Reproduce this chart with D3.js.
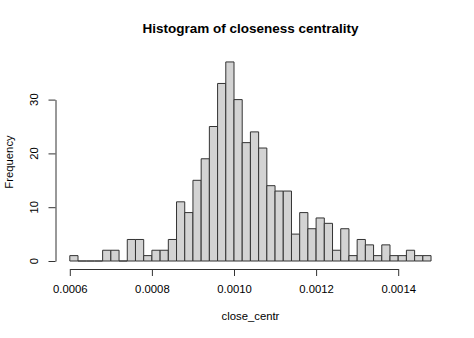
<!DOCTYPE html>
<html>
<head>
<meta charset="utf-8">
<script src="https://cdn.jsdelivr.net/npm/d3@7/dist/d3.min.js"></script>
<style>
  html, body { margin: 0; padding: 0; background: #fff; }
  svg { display: block; font-family: "Liberation Sans", Arial, Helvetica, sans-serif; }
</style>
</head>
<body>
<svg id="chart" width="474" height="338"></svg>
<script>
// ---- data ----
const title = "Histogram of closeness centrality";
const xLabel = "close_centr";
const yLabel = "Frequency";
const binStart = 0.0006;
const binWidth = 0.00002;
const counts = [1,0,0,0,2,2,0,4,4,1,2,2,4,11,9,15,19,25,33,37,30,22,24,21,14,13,13,5,9,6,8,7,2,6,1,4,3,1,3,1,1,2,1,1];
const xTicks = [0.0006, 0.0008, 0.0010, 0.0012, 0.0014];
const xTickLabels = ["0.0006", "0.0008", "0.0010", "0.0012", "0.0014"];
const yTicks = [0, 10, 20, 30];

// ---- drawing ----
const svg = d3.select("#chart");
const x = d3.scaleLinear().domain([0.0006, 0.0014]).range([69.8, 398.2]);
const y = d3.scaleLinear().domain([0, 30]).range([261, 99.6]);

const bins = counts.map((c, i) => ({ x0: binStart + i * binWidth, x1: binStart + (i + 1) * binWidth, n: c }));

svg.append("g").selectAll("path")
  .data(bins)
  .join("path")
  .attr("d", d => {
    const a = x(d.x0), b = x(d.x1), y0 = y(0), y1 = y(d.n);
    return `M${a},${y0}V${y1}H${b}V${y0}Z`;
  })
  .attr("fill", "#d3d3d3")
  .attr("stroke", "#333")
  .attr("stroke-width", 1);

// x axis
const xAxis = d3.axisBottom(x)
  .tickValues(xTicks)
  .tickFormat((d, i) => xTickLabels[i])
  .tickSize(7)
  .tickSizeOuter(0)
  .tickPadding(9);
const gx = svg.append("g").attr("transform", "translate(0,269)").call(xAxis);
gx.select(".domain").attr("stroke", "#333");
gx.selectAll(".tick line").attr("stroke", "#333");
gx.selectAll(".tick text").attr("font-size", "11.3px").attr("fill", "#000")
  .attr("font-family", "Liberation Sans, Arial, sans-serif");

// y axis
const yAxis = d3.axisLeft(y)
  .tickValues(yTicks)
  .tickSize(7)
  .tickSizeOuter(0)
  .tickFormat("");
const gy = svg.append("g").attr("transform", "translate(55.5,0)").call(yAxis);
gy.select(".domain").attr("stroke", "#333");
gy.selectAll(".tick line").attr("stroke", "#333");

svg.append("g").selectAll("text")
  .data(yTicks)
  .join("text")
  .attr("transform", d => `translate(37.5,${y(d)}) rotate(-90)`)
  .attr("text-anchor", "middle")
  .attr("font-size", "11.3px")
  .attr("fill", "#000")
  .text(d => d);

// labels
svg.append("text")
  .attr("x", 250.5).attr("y", 33.3)
  .attr("text-anchor", "middle")
  .attr("font-size", "13.5px")
  .attr("font-weight", "bold")
  .text(title);

svg.append("text")
  .attr("x", 250.5).attr("y", 320)
  .attr("text-anchor", "middle")
  .attr("font-size", "11.3px")
  .text(xLabel);

svg.append("text")
  .attr("transform", "translate(12.5,162) rotate(-90)")
  .attr("text-anchor", "middle")
  .attr("font-size", "11.3px")
  .text(yLabel);
</script>
</body>
</html>
